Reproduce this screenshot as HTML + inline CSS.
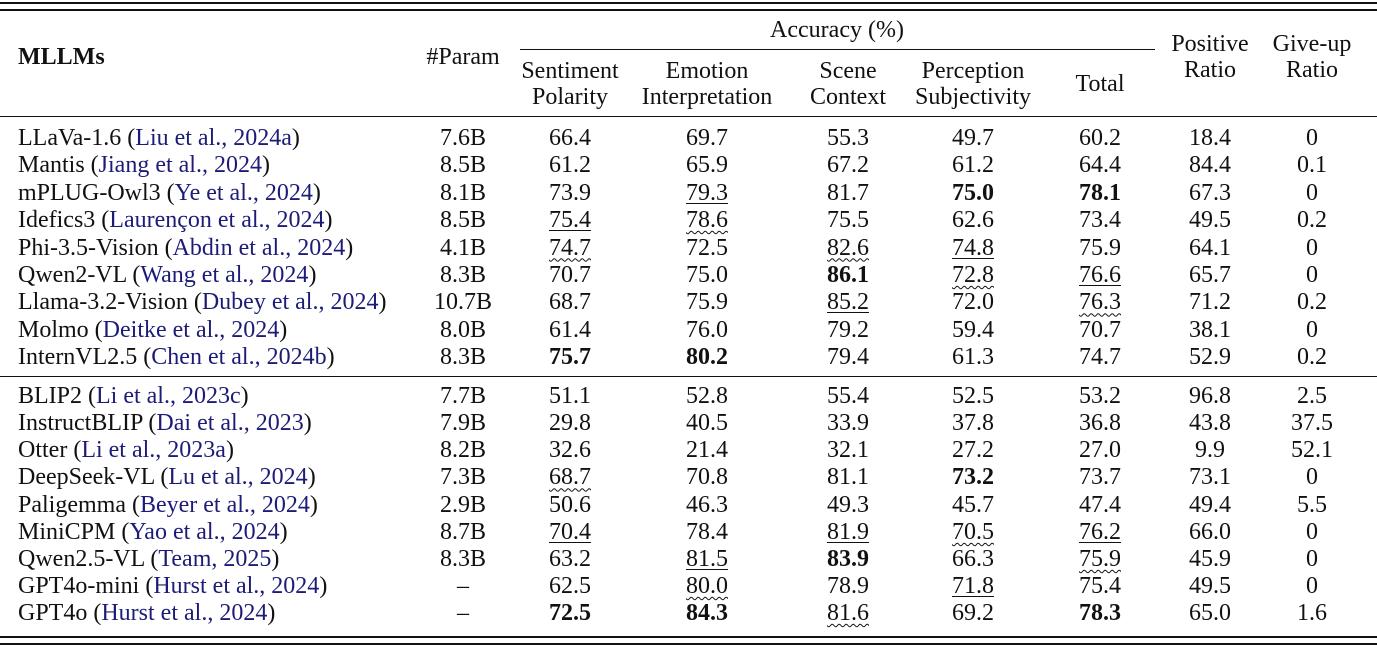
<!DOCTYPE html>
<html><head><meta charset="utf-8"><style>
body{margin:0;background:#fff;width:1377px;height:648px;position:relative;overflow:hidden;font-family:"Liberation Serif","Times New Roman",Times,"DejaVu Serif",serif;color:#111;font-size:24px}
.t{position:absolute;white-space:nowrap;transform:translate(-50%,-50%);line-height:1}
.l{position:absolute;white-space:nowrap;transform:translateY(-50%);line-height:1}
.r{position:absolute;background:#111}
.c{color:#1c1c78}
.b{font-weight:bold}
.u{text-decoration:underline;text-underline-offset:3px;text-decoration-thickness:1px}
.w{text-decoration:underline wavy;text-underline-offset:3px;text-decoration-thickness:1px}
</style></head><body>
<div class="r" style="left:0;top:2px;width:1377px;height:2px"></div>
<div class="r" style="left:0;top:9px;width:1377px;height:2px"></div>
<div class="r" style="left:520px;top:49px;width:635px;height:1px"></div>
<div class="r" style="left:0;top:116px;width:1377px;height:1px"></div>
<div class="r" style="left:0;top:376px;width:1377px;height:1px"></div>
<div class="r" style="left:0;top:636px;width:1377px;height:2px"></div>
<div class="r" style="left:0;top:643px;width:1377px;height:2px"></div>

<div class="l b" style="left:18px;top:57px">MLLMs</div>
<div class="t" style="left:463px;top:57px">#Param</div>
<div class="t" style="left:837px;top:30px">Accuracy (%)</div>
<div class="t" style="left:570px;top:71px">Sentiment</div>
<div class="t" style="left:570px;top:97px">Polarity</div>
<div class="t" style="left:707px;top:71px">Emotion</div>
<div class="t" style="left:707px;top:97px">Interpretation</div>
<div class="t" style="left:848px;top:71px">Scene</div>
<div class="t" style="left:848px;top:97px">Context</div>
<div class="t" style="left:973px;top:71px">Perception</div>
<div class="t" style="left:973px;top:97px">Subjectivity</div>
<div class="t" style="left:1100px;top:84px">Total</div>
<div class="t" style="left:1210px;top:44px">Positive</div>
<div class="t" style="left:1210px;top:70px">Ratio</div>
<div class="t" style="left:1312px;top:44px">Give-up</div>
<div class="t" style="left:1312px;top:70px">Ratio</div>
<div id="tb"></div>
<script>
const models=["LLaVa-1.6","Mantis","mPLUG-Owl3","Idefics3","Phi-3.5-Vision","Qwen2-VL","Llama-3.2-Vision","Molmo","InternVL2.5","BLIP2","InstructBLIP","Otter","DeepSeek-VL","Paligemma","MiniCPM","Qwen2.5-VL","GPT4o-mini","GPT4o"];
const cites=["Liu et al., 2024a","Jiang et al., 2024","Ye et al., 2024","Laurençon et al., 2024","Abdin et al., 2024","Wang et al., 2024","Dubey et al., 2024","Deitke et al., 2024","Chen et al., 2024b","Li et al., 2023c","Dai et al., 2023","Li et al., 2023a","Lu et al., 2024","Beyer et al., 2024","Yao et al., 2024","Team, 2025","Hurst et al., 2024","Hurst et al., 2024"];
const params=["7.6B","8.5B","8.1B","8.5B","4.1B","8.3B","10.7B","8.0B","8.3B","7.7B","7.9B","8.2B","7.3B","2.9B","8.7B","8.3B","–","–"];
const sentiment=["66.4","61.2","73.9","75.4u","74.7w","70.7","68.7","61.4","75.7b","51.1","29.8","32.6","68.7w","50.6","70.4u","63.2","62.5","72.5b"];
const emotion=["69.7","65.9","79.3u","78.6w","72.5","75.0","75.9","76.0","80.2b","52.8","40.5","21.4","70.8","46.3","78.4","81.5u","80.0w","84.3b"];
const scene=["55.3","67.2","81.7","75.5","82.6w","86.1b","85.2u","79.2","79.4","55.4","33.9","32.1","81.1","49.3","81.9u","83.9b","78.9","81.6w"];
const perception=["49.7","61.2","75.0b","62.6","74.8u","72.8w","72.0","59.4","61.3","52.5","37.8","27.2","73.2b","45.7","70.5w","66.3","71.8u","69.2"];
const total=["60.2","64.4","78.1b","73.4","75.9","76.6u","76.3w","70.7","74.7","53.2","36.8","27.0","73.7","47.4","76.2u","75.9w","75.4","78.3b"];
const positive=["18.4","84.4","67.3","49.5","64.1","65.7","71.2","38.1","52.9","96.8","43.8","9.9","73.1","49.4","66.0","45.9","49.5","65.0"];
const giveup=["0","0.1","0","0.2","0","0","0.2","0","0.2","2.5","37.5","52.1","0","5.5","0","0","0","1.6"];
const tb=document.getElementById('tb');
function rowY(i){return i<9?138+i*27.4:396+(i-9)*27.15;}
function cell(txt,x,y,name){
  const d=document.createElement('div');
  d.className='t';
  let m=txt.slice(-1);
  if(m==='b'||m==='u'||m==='w'){d.classList.add(m);txt=txt.slice(0,-1);}
  d.textContent=txt;
  d.style.left=x+'px';d.style.top=y+'px';
  
  
  tb.appendChild(d);
}
const cols=[[sentiment,570,'sentiment'],[emotion,707,'emotion'],[scene,848,'scene'],[perception,973,'perception'],[total,1100,'total'],[positive,1210,'positive-ratio'],[giveup,1312,'giveup-ratio']];
models.forEach((m,i)=>{
  const y=rowY(i);
  const d=document.createElement('div');
  d.className='l';
  d.style.left='18px';d.style.top=y+'px';
  d.innerHTML=m+' (<span class="c">'+cites[i]+'</span>)';
  
  
  tb.appendChild(d);
  cell(params[i],463,y,'param-cell');
  cols.forEach(c=>cell(c[0][i],c[1],y,c[2]+'-cell'));
});
</script>
</body></html>
